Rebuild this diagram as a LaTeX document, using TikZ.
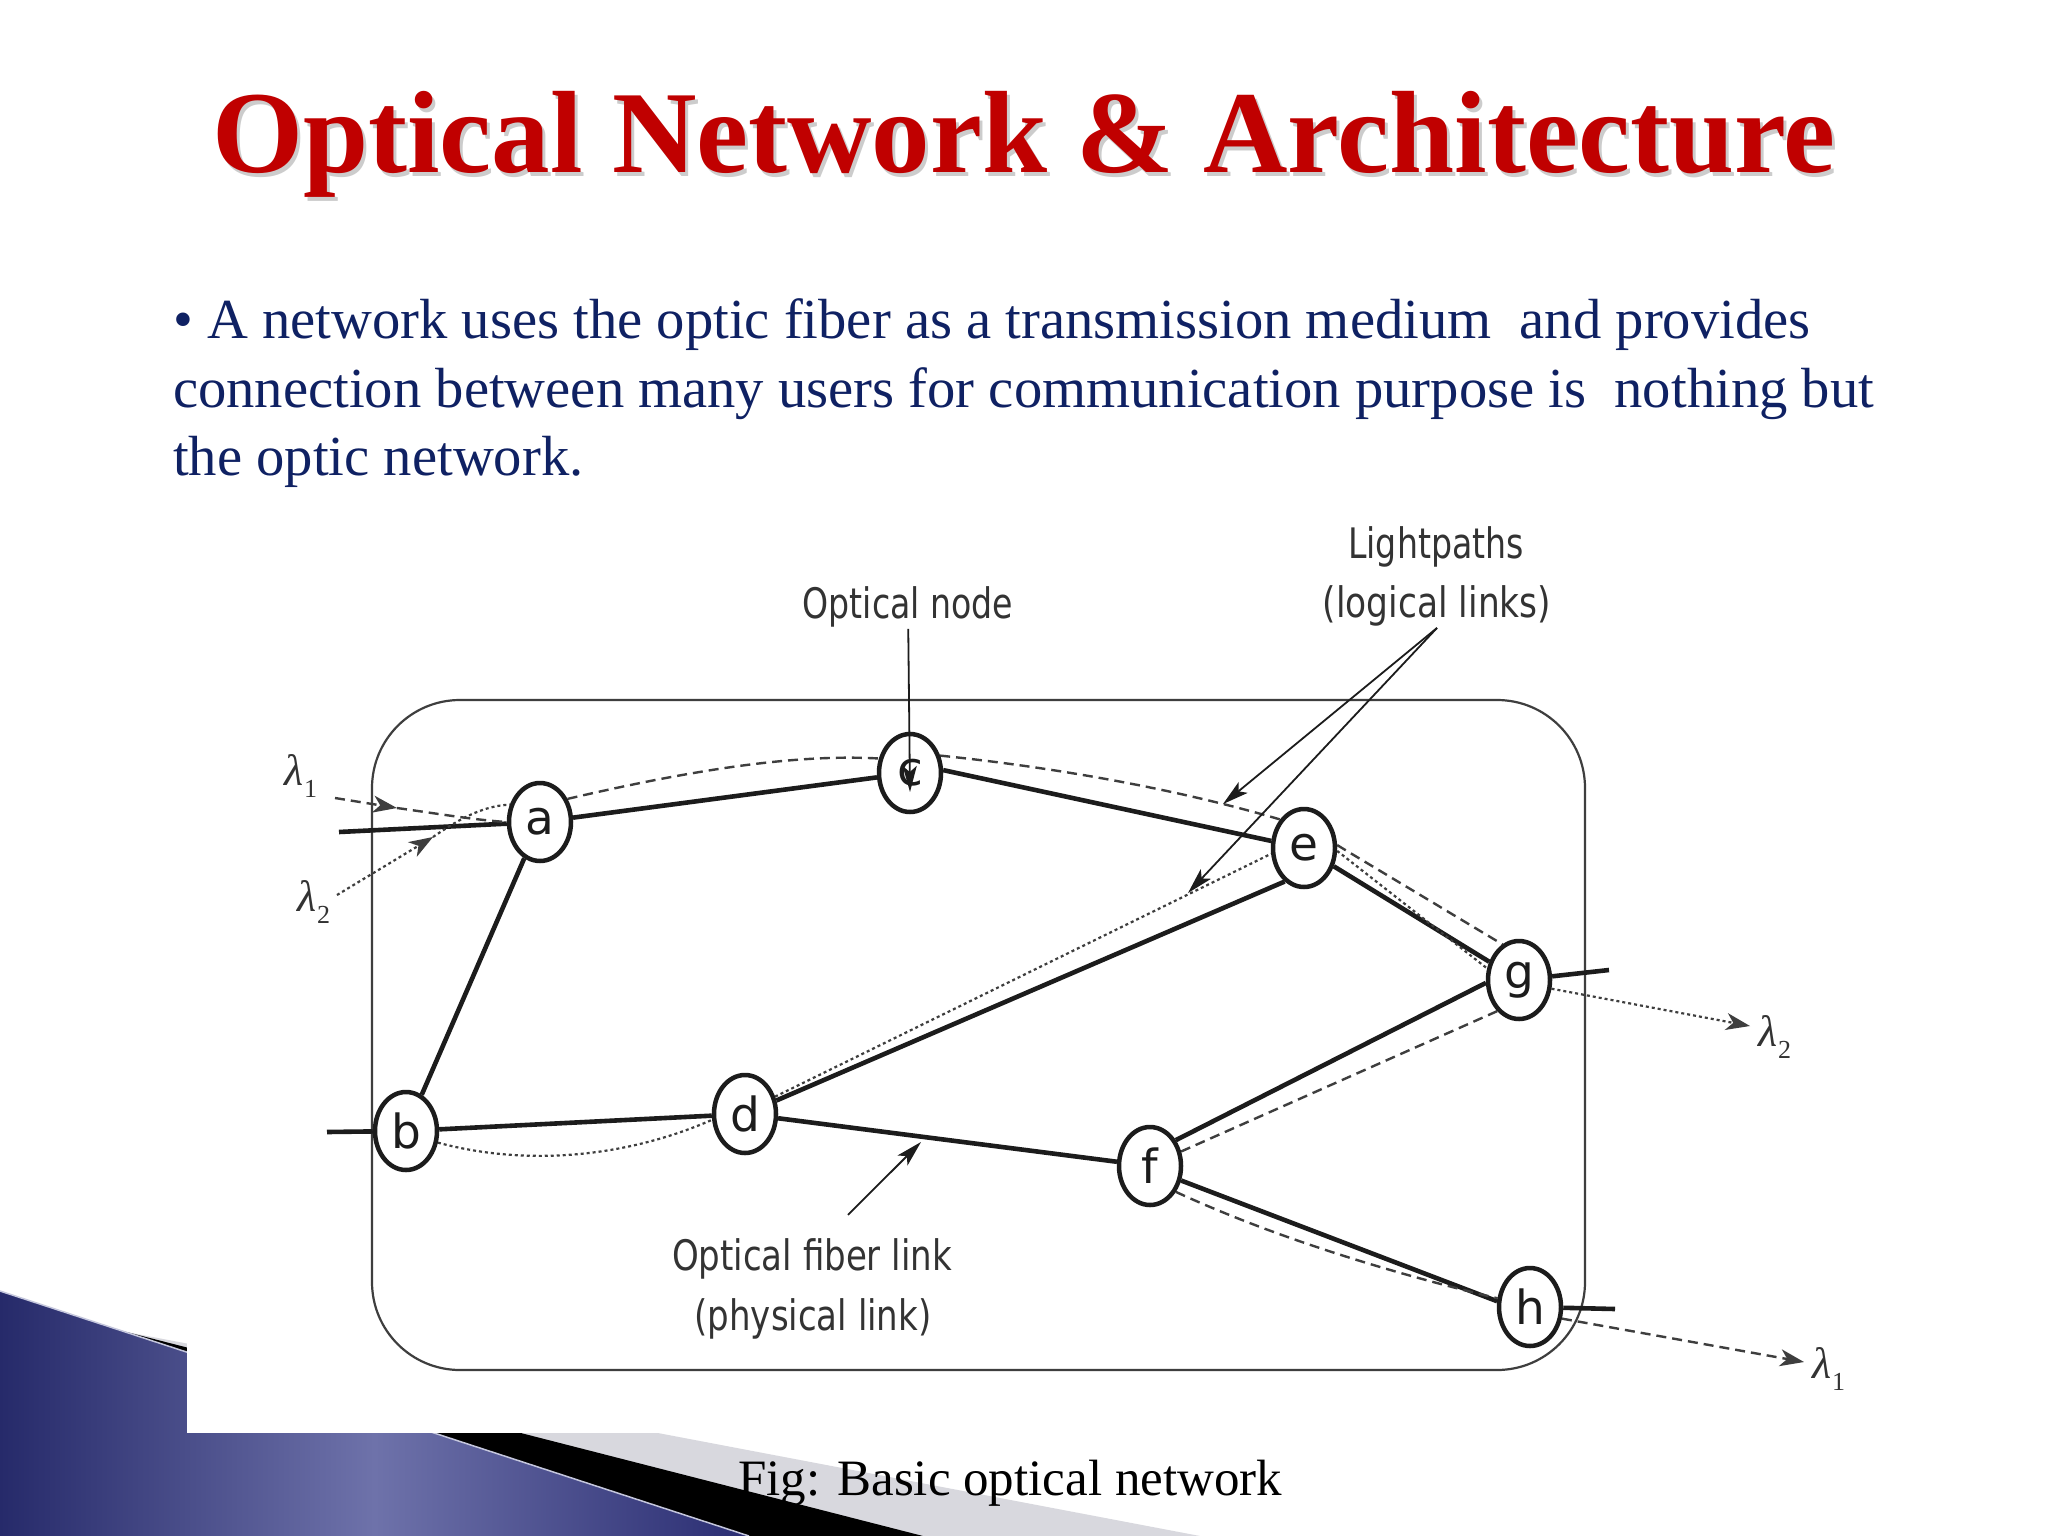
\documentclass[tikz,border=0pt]{standalone}
\usepackage{fontspec}
\setmainfont{Liberation Serif}
\newfontfamily\djv{DejaVu Sans}
\usetikzlibrary{shapes.geometric,arrows.meta}
\pgfdeclarelayer{bg}
\pgfdeclarelayer{links}
\pgfsetlayers{bg,links,main}
\definecolor{titlered}{HTML}{C00000}
\definecolor{bodynavy}{HTML}{0F2163}
\definecolor{decogray}{HTML}{D8D8DE}
\definecolor{decoA}{HTML}{262A6A}
\definecolor{decoB}{HTML}{6E72AA}
\definecolor{decoC}{HTML}{2A2D72}
\definecolor{ink}{HTML}{1C1C1C}
\newcommand{\lamsym}[1]{{\itshape λ}\raisebox{-0.28em}{\fontsize{26}{26}\selectfont #1}}
\begin{document}
\begin{tikzpicture}[x=1pt,y=-1pt,
  onode/.style={ellipse, draw=ink, line width=4.5pt, fill=white, minimum width=62pt, minimum height=78pt, inner sep=0pt, font=\djv\fontsize{47}{47}\selectfont, text=ink},
  fiber/.style={draw=ink, line width=4.6pt},
  lpone/.style={draw=ink!85, line width=2.4pt, dash pattern=on 10pt off 6pt},
  lptwo/.style={draw=ink!85, line width=2.2pt, dash pattern=on 3pt off 3pt},
  lptip/.style={-{Stealth[length=24pt,width=17pt,inset=7pt]}},
  annot/.style={draw=ink, line width=1.8pt, -{Stealth[length=26pt,width=14pt,inset=6pt]}},
  lbl/.style={font=\djv\fontsize{42}{50}\selectfont, text=ink!90, inner sep=2pt},
  lam/.style={font=\fontsize{44}{48}\selectfont, text=ink!90, inner sep=0pt},
  body/.style={font=\fontsize{56.6}{68}\selectfont, text=bodynavy, inner sep=0pt, anchor=base west},
  ttl/.style={font=\bfseries\fontsize{117}{120}\selectfont, inner sep=0pt, anchor=base}
]
\useasboundingbox (0,0) rectangle (2048,1536);

% ---------- background and slide decoration ----------
\begin{pgfonlayer}{bg}
\fill[white] (0,0) rectangle (2048,1536);
\fill[decogray] (0,1308) -- (1200,1536) -- (0,1536) -- cycle;
\fill[black] (0,1299.6) -- (923,1536) -- (0,1536) -- cycle;
\shade[left color=decoA, right color=decoC, middle color=decoB] (0,1291) -- (749,1536) -- (0,1536) -- cycle;
\draw[line width=1.5pt, white!60!decoB] (0,1291) -- (749,1536);
\fill[white] (187,480) rectangle (1960,1433);
\draw[draw=ink!85, line width=2.2pt, rounded corners=88pt] (372,700) rectangle (1585,1370);
\end{pgfonlayer}

% ---------- title and text ----------
\node[ttl, text=gray!40] at (1027,176) {Optical Network \& Architecture};
\node[ttl, text=titlered] (title) at (1024,172) {Optical Network \& Architecture};

\node[body] (t1) at (173,338) {• A network uses the optic fiber as a transmission medium\ \ and provides};
\node[body] (t2) at (173,407) {connection between many users for communication purpose is\ \ nothing but};
\node[body] (t3) at (173,475) {the optic network.};

\node[font=\fontsize{51}{56}\selectfont, inner sep=0pt, anchor=base west] (cap) at (738,1495) {Fig: Basic optical network};

% ---------- optical nodes ----------
\node[onode] (a) at (540,822) {a};
\node[onode] (b) at (406,1131) {b};
\node[onode] (c) at (910,773) {c};
\node[onode] (d) at (745,1114) {d};
\node[onode] (e) at (1304,848) {e};
\node[onode] (f) at (1150,1166) {f};
\node[onode] (g) at (1519,980) {g};
\node[onode] (h) at (1530,1307) {h};

% ---------- labels ----------
\node[lbl, anchor=base] (onl) at (908,618) {\scalebox{0.79}[1]{Optical node}};
\node[lbl, anchor=base] (lpa) at (1436,558) {\scalebox{0.79}[1]{Lightpaths}};
\node[lbl, anchor=base] (lpb) at (1437,617) {\scalebox{0.82}[1]{(logical links)}};
\node[lbl, anchor=base] (ofa) at (812,1270) {\scalebox{0.81}[1]{Optical fiber link}};
\node[lbl, anchor=base] (ofb) at (813,1330) {\scalebox{0.81}[1]{(physical link)}};

\node[lam] (l1a) at (301,776) {\lamsym{1}};
\node[lam] (l2a) at (314,902) {\lamsym{2}};
\node[lam] (l2b) at (1775,1037) {\lamsym{2}};
\node[lam] (l1b) at (1829,1369) {\lamsym{1}};

% ---------- free ends ----------
\coordinate (as) at (339,832);
\coordinate (bs) at (327,1132);
\coordinate (gs) at (1609,970);
\coordinate (hs) at (1615,1309);
\coordinate (l1s) at (335,798);
\coordinate (l1t) at (397,808);
\coordinate (l2s) at (337,895);
\coordinate (l2t) at (433,837);
\coordinate (g2t) at (1750,1026);
\coordinate (h1t) at (1804,1362);
\coordinate (ont) at (910,792);
\coordinate (lpt1) at (1223,804);
\coordinate (lpt2) at (1188,893);
\coordinate (oft) at (921,1142);

\begin{pgfonlayer}{links}
% physical links
\draw[fiber] (a) -- (b);
\draw[fiber] (a) -- (c);
\draw[fiber] (c.5) -- (e);
\draw[fiber] (e) -- (g);
\draw[fiber] (b) -- (d);
\draw[fiber] (d) -- (e.240);
\draw[fiber] (d) -- (f);
\draw[fiber] (f.45) -- (g.185);
\draw[fiber] (f.-25) -- (h.170);
\draw[fiber] (as) -- (a);
\draw[fiber] (bs) -- (b);
\draw[fiber] (g) -- (gs);
\draw[fiber] (h) -- (hs);

% lightpath lambda 1 (dashed)
\draw[lpone,lptip] (l1s) -- (l1t);
\draw[lpone] (l1t) .. controls (440,814) and (475,820) .. (a.west);
\draw[lpone] (a.40) .. controls (700,768) and (800,754) .. (c.155);
\draw[lpone] (c.30) .. controls (1060,768) and (1180,790) .. (e.130);
\draw[lpone] (e.5) -- (g.115);
\draw[lpone] (g.235) -- (f.25);
\draw[lpone] (f.-45) .. controls (1280,1240) and (1400,1275) .. (h.165);
\draw[lpone,lptip] (h.-20) -- (h1t);

% lightpath lambda 2 (dotted)
\draw[lptwo,lptip] (l2s) -- (l2t);
\draw[lptwo] (l2t) .. controls (455,822) and (480,806) .. (a.150);
\draw[lptwo] (b.-20) .. controls (520,1165) and (620,1160) .. (d.190);
\draw[lptwo] (d.30) -- (e.190);
\draw[lptwo] (e.-5) -- (g.160);
\draw[lptwo,lptip] (g.-15) -- (g2t);
\end{pgfonlayer}

% ---------- annotation arrows ----------
\draw[annot] (onl) -- (ont);
\draw[annot] (lpb.south) -- (lpt1);
\draw[annot] (lpb.south) -- (lpt2);
\draw[annot] ([shift={(36,-21)}]ofa.north) -- (oft);
\end{tikzpicture}
\end{document}
